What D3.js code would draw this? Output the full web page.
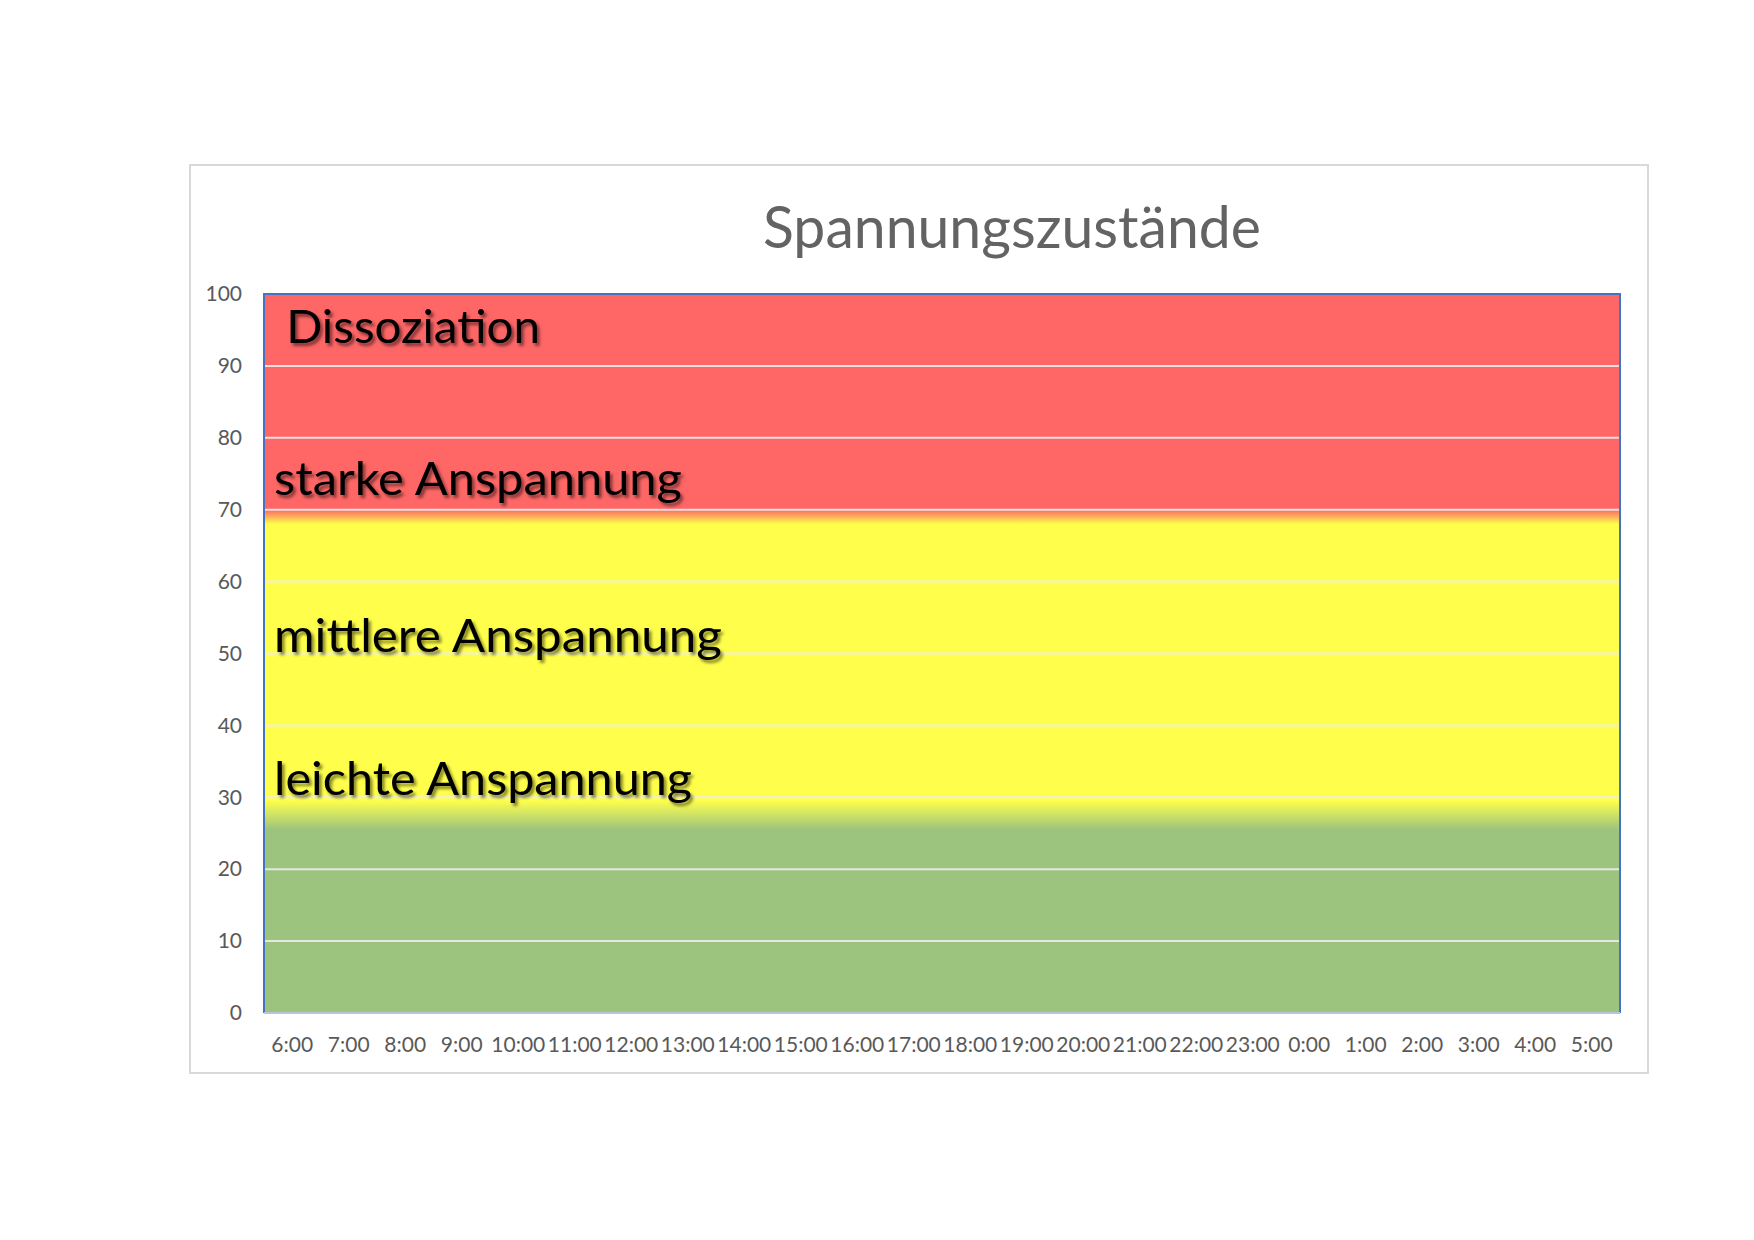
<!DOCTYPE html>
<html>
<head>
<meta charset="utf-8">
<title>Spannungszustände</title>
<script src="https://cdn.jsdelivr.net/npm/d3@7"></script>
<style>
    body { margin: 0; background: #ffffff; }
    svg { display: block; }
</style>
</head>
<body>
<svg id="chart"></svg>
<script>
// hours on the x axis (one day starting at 6:00)
const hours = ["6:00", "7:00", "8:00", "9:00", "10:00", "11:00", "12:00", "13:00", "14:00", "15:00",
    "16:00", "17:00", "18:00", "19:00", "20:00", "21:00", "22:00", "23:00", "0:00", "1:00",
    "2:00", "3:00", "4:00", "5:00"];

// y axis ticks
const yTicks = [0, 10, 20, 30, 40, 50, 60, 70, 80, 90, 100];

// background zones: value where each colour stop sits (top to bottom)
const zoneStops = [100, 70, 68, 29.6, 25.5, 0];
const zoneStopNames = ["rot", "rot", "gelb", "gelb", "gruen", "gruen"];

// zone labels and the value of their baseline
const zoneLabels = [" Dissoziation", "starke Anspannung", "mittlere Anspannung", "leichte Anspannung"];
const zoneLabelValues = [93.2, 72, 50.2, 30.3];

const title = "Spannungszustände";

// styles
const zoneColors = { rot: "#ff6666", gelb: "#ffff4b", gruen: "#9cc47f" };
const labelWidths = [266, 408, 448, 418];

const width = 1754, height = 1240;
const frame = { x: 190, y: 165, w: 1458, h: 908 };
const plot = { left: 264, right: 1620, top: 294, bottom: 1013 };

const svg = d3.select("#chart")
    .attr("width", width)
    .attr("height", height);

const defs = svg.append("defs");

// outer chart frame
svg.append("rect")
    .attr("x", frame.x)
    .attr("y", frame.y)
    .attr("width", frame.w)
    .attr("height", frame.h)
    .attr("fill", "#ffffff")
    .attr("stroke", "#d9d9d9")
    .attr("stroke-width", 2);

const x = d3.scaleBand().domain(hours).range([plot.left, plot.right]);
const y = d3.scaleLinear().domain([0, 100]).range([plot.bottom, plot.top]);

// vertical gradient for the zones
const grad = defs.append("linearGradient")
    .attr("id", "zones")
    .attr("gradientUnits", "userSpaceOnUse")
    .attr("x1", 0).attr("x2", 0)
    .attr("y1", y(100)).attr("y2", y(0));

grad.selectAll("stop")
    .data(zoneStops)
    .enter().append("stop")
    .attr("offset", d => (y(d) - y(100)) / (y(0) - y(100)))
    .attr("stop-color", (d, i) => zoneColors[zoneStopNames[i]]);

svg.append("rect")
    .attr("x", x.range()[0])
    .attr("y", y(100))
    .attr("width", x.range()[1] - x.range()[0])
    .attr("height", y(0) - y(100))
    .attr("fill", "url(#zones)");

// gridlines
svg.append("g")
    .selectAll("line")
    .data(yTicks.filter(d => d > 0 && d < 100))
    .enter().append("line")
    .attr("x1", plot.left)
    .attr("x2", plot.right)
    .attr("y1", d => y(d))
    .attr("y2", d => y(d))
    .attr("stroke", "#ececec")
    .attr("stroke-opacity", 0.9)
    .attr("stroke-width", 2);

// plot border (blue on top / sides, light line at the bottom)
svg.append("path")
    .attr("d", `M${plot.left},${y(0)}V${y(100)}H${plot.right}V${y(0)}`)
    .attr("fill", "none")
    .attr("stroke", "#4472c4")
    .attr("stroke-width", 2);

svg.append("line")
    .attr("x1", plot.left)
    .attr("x2", plot.right)
    .attr("y1", y(0))
    .attr("y2", y(0))
    .attr("stroke", "#b9c4d6")
    .attr("stroke-width", 2);

// axes
const yAxis = svg.append("g")
    .attr("transform", `translate(${plot.left},0)`)
    .call(d3.axisLeft(y).tickValues(yTicks).tickSize(0).tickPadding(22));

const xAxis = svg.append("g")
    .attr("transform", `translate(0,${plot.bottom})`)
    .call(d3.axisBottom(x).tickSize(0).tickPadding(24));

[yAxis, xAxis].forEach(ax => {
    ax.select(".domain").remove();
    ax.selectAll("text")
        .attr("font-family", "Lato, 'Open Sans', sans-serif")
        .attr("font-size", 21)
        .attr("fill", "#595959");
});

// title
svg.append("text")
    .attr("x", 1012)
    .attr("y", 248)
    .attr("text-anchor", "middle")
    .attr("font-family", "Lato, 'Open Sans', sans-serif")
    .attr("font-size", 59)
    .attr("fill", "#636363")
    .attr("textLength", 498)
    .attr("lengthAdjust", "spacingAndGlyphs")
    .text(title);

// zone labels with a soft drop shadow
defs.append("filter")
    .attr("id", "shadow")
    .attr("x", "-5%").attr("y", "-20%")
    .attr("width", "115%").attr("height", "160%")
    .append("feDropShadow")
    .attr("dx", 2.5)
    .attr("dy", 3)
    .attr("stdDeviation", 1.8)
    .attr("flood-color", "#000000")
    .attr("flood-opacity", 0.5);

svg.append("g")
    .selectAll("text")
    .data(zoneLabels)
    .enter().append("text")
    .attr("x", plot.left + 10)
    .attr("y", (d, i) => y(zoneLabelValues[i]))
    .attr("font-family", "Lato, 'Open Sans', sans-serif")
    .attr("font-size", 46)
    .attr("fill", "#000000")
    .attr("filter", "url(#shadow)")
    .attr("textLength", (d, i) => labelWidths[i])
    .attr("lengthAdjust", "spacingAndGlyphs")
    .attr("xml:space", "preserve")
    .style("white-space", "pre")
    .text(d => d);
</script>
</body>
</html>
